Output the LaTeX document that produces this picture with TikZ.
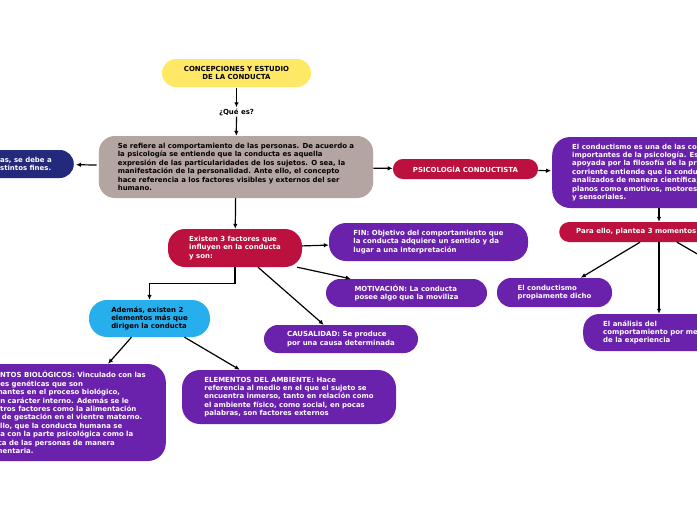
\documentclass[tikz,border=0pt]{standalone}
\usepackage{fontspec}
\setmainfont{DejaVu Sans}
\usepackage{tikz}
\usetikzlibrary{arrows.meta, positioning}

\definecolor{amarillo}{HTML}{FFE866}
\definecolor{gris}{HTML}{B4A4A2}
\definecolor{carmin}{HTML}{BC103E}
\definecolor{morado}{HTML}{6A22AD}
\definecolor{marino}{HTML}{232A7B}
\definecolor{celeste}{HTML}{27AEEC}

\tikzset{
  caja/.style={rounded corners=13pt, inner ysep=0pt, inner xsep=20pt, align=left,
    font=\fontsize{6.95}{8.4}\selectfont\bfseries},
  blanca/.style={caja, text=white},
  flecha/.style={draw=black, line width=1.2pt, -{Latex[length=5pt,width=4.5pt]}}
}

\begin{document}
\begin{tikzpicture}[x=1pt, y=-1pt]
        \useasboundingbox (0,0) rectangle (697,520);
        \begin{scope}[every node/.style={caja}]
          \node[fill=amarillo, align=center, minimum width=149pt, minimum height=28pt, rounded corners=14pt] (titulo) at (236.5,73)
            {CONCEPCIONES Y ESTUDIO\\DE LA CONDUCTA};
          \node[inner sep=1pt] (que) at (236.5,112) {¿Qué es?};
          \node[fill=gris, minimum width=274pt, minimum height=62pt, inner xsep=19pt, rounded corners=16pt] (definicion) at (236,167)
            {Se refiere al comportamiento de las personas. De acuerdo a\\la psicología se entiende que la conducta es aquella\\expresión de las particularidades de los sujetos. O sea, la\\manifestación de la personalidad. Ante ello, el concepto\\hace referencia a los factores visibles y externos del ser\\humano.};
          \node[fill=celeste, minimum width=121pt, minimum height=37pt, rounded corners=18pt] (ademas) at (149.5,318.5)
            {Además, existen 2\\elementos más que\\dirigen la conducta};
        \end{scope}
        \begin{scope}[every node/.style={blanca}]
          \node[fill=marino, anchor=east, minimum height=28pt, inner xsep=22pt, rounded corners=14pt] (fines) at (74,164)
            {as, se debe a\\stintos fines.};
          \node[fill=carmin, align=center, minimum width=143pt, minimum height=20pt, rounded corners=10pt] (psicologia) at (465.5,169)
            {PSICOLOGÍA CONDUCTISTA};
          \node[fill=morado, anchor=west, minimum height=71pt, rounded corners=18pt] (conductismo) at (552,172.5)
            {El conductismo es una de las co\\importantes de la psicología. Es\\apoyada por la filosofía de la pr\\corriente entiende que la condu\\analizados de manera científica,\\planos como emotivos, motores\\y sensoriales.};
          \node[fill=carmin, anchor=west, minimum height=20pt, inner xsep=17pt, rounded corners=10pt] (momentos) at (559,232)
            {Para ello, plantea 3 momentos\hspace*{30pt}};
          \node[fill=morado, minimum width=115pt, minimum height=29pt, rounded corners=14pt] (propiamente) at (554.5,292.5)
            {El conductismo\\propiamente dicho};
          \node[fill=morado, anchor=west, minimum height=37pt, rounded corners=16pt] (analisis) at (583,332.5)
            {El análisis del\\comportamiento por me\\de la experiencia};
          \node[fill=carmin, minimum width=134pt, minimum height=38pt, rounded corners=17pt] (factores) at (235,248)
            {Existen 3 factores que\\influyen en la conducta\\y son:};
          \node[fill=morado, minimum width=199pt, minimum height=38pt, rounded corners=17pt] (fin) at (428.5,242)
            {FIN: Objetivo del comportamiento que\\la conducta adquiere un sentido y da\\lugar a una interpretación};
          \node[fill=morado, minimum width=161pt, minimum height=28pt, rounded corners=14pt] (motivacion) at (406.5,293)
            {MOTIVACIÓN: La conducta\\posee algo que la moviliza};
          \node[fill=morado, minimum width=154pt, minimum height=28pt, rounded corners=14pt] (causalidad) at (341,339)
            {CAUSALIDAD: Se produce\\por una causa determinada};
          \node[fill=morado, anchor=east, minimum height=97pt, rounded corners=18pt] (biologicos) at (166,412.5)
            {ENTOS BIOLÓGICOS: Vinculado con las\\nes genéticas que son\\inantes en el proceso biológico,\\un carácter interno. Además se le\\otros factores como la alimentación\\s de gestación en el vientre materno.\\ello, que la conducta humana se\\na con la parte psicológica como la\\ica de las personas de manera\\mentaria.};
          \node[fill=morado, minimum width=214pt, minimum height=54pt, rounded corners=18pt] (ambiente) at (289,397)
            {ELEMENTOS DEL AMBIENTE: Hace\\referencia al medio en el que el sujeto se\\encuentra inmerso, tanto en relación como\\el ambiente físico, como social, en pocas\\palabras, son factores externos};
        \end{scope}
        \coordinate (eje) at (659,0);
        \coordinate (fuera) at (725,270);
        \draw[flecha, shorten <=1pt] (titulo) -- (que);
        \draw[flecha] (que) -- (definicion);
        \draw[flecha, shorten <=2pt, shorten >=2pt] (definicion) -- (fines);
        \draw[flecha] (definicion) -- (psicologia);
        \draw[flecha, shorten >=1pt] (psicologia) -- (conductismo);
        \draw[flecha] (conductismo.south -| eje) -- (momentos.north -| eje);
        \draw[flecha] ([xshift=81pt]momentos.south west) -- ([xshift=84pt]propiamente.north west);
        \draw[flecha] (momentos.south -| eje) -- (analisis.north -| eje);
        \draw[flecha] ([xshift=118pt]momentos.south west) -- (fuera);
        \draw[flecha] (definicion) -- (factores);
        \draw[flecha] (factores) -- (fin);
        \draw[flecha] ([xshift=-5pt]factores.south east) -- ([xshift=25pt]motivacion.north west);
        \draw[flecha] ([xshift=23pt]factores.south) -- ([xshift=60pt]causalidad.north west);
        \draw[flecha] (factores.south) -- ++(0,16) -| (ademas.north);
        \draw[flecha] ([xshift=-18pt]ademas.south) -- ([xshift=-58pt]biologicos.north east);
        \draw[flecha] ([xshift=35pt]ademas.south) -- ([xshift=58pt]ambiente.north west);
      \end{tikzpicture}
\end{document}
